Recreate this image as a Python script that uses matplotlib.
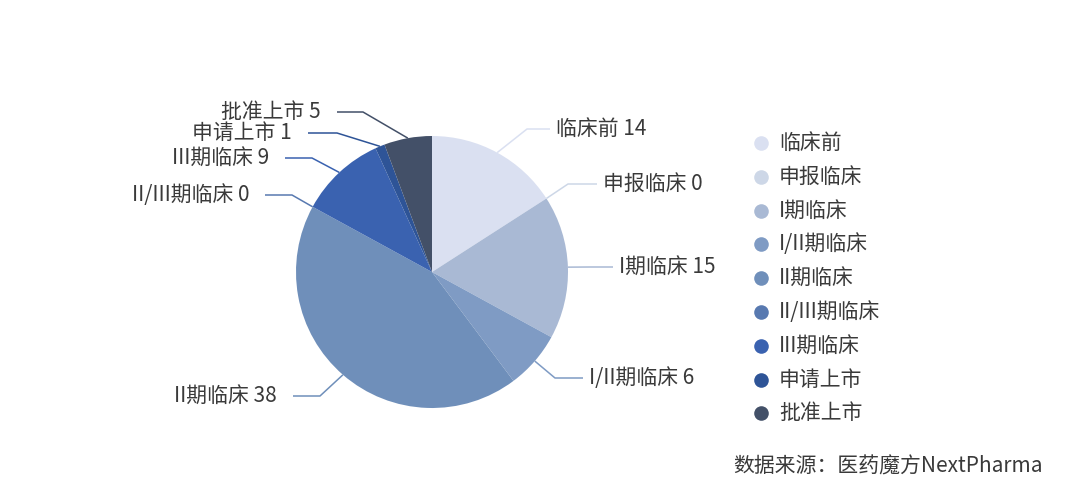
import matplotlib
matplotlib.use('Agg')
import matplotlib.pyplot as plt
import numpy as np

plt.rcParams['font.family'] = ['Noto Sans CJK SC', 'DejaVu Sans']

# data
stages = ['临床前', '申报临床', 'I期临床', 'I/II期临床', 'II期临床',
          'II/III期临床', 'III期临床', '申请上市', '批准上市']
counts = [14, 0, 15, 6, 38, 0, 9, 1, 5]
colors = ['#dae0f1', '#cdd7e7', '#a9b9d4', '#7f9bc4', '#6f8fba',
          '#5879b0', '#3a62b0', '#2e5497', '#435068']
source = '数据来源：医药魔方NextPharma'

# layout (pixel coords, y measured from top)
W, H = 1080, 496
CX, CY, R = 432, 272, 136
# elbow point, end of horizontal segment for each label
elbows = [(527, 129), (568, 184), (590, 267), (555, 378), (320, 396),
          (292, 195), (312, 158), (337, 133), (363, 112)]
ends = [(550, 129), (597, 184), (613, 267), (583, 378), (293, 396),
        (265, 195), (285, 158), (308, 133), (337, 112)]
TEXT_C = '#3a3a3a'
FS = 15

fig = plt.figure(figsize=(W / 100, H / 100), dpi=100)
ax = fig.add_axes([0, 0, 1, 1])

wedges, _ = ax.pie(counts, colors=colors, startangle=90, counterclock=False,
                   center=(CX, H - CY), radius=R,
                   wedgeprops=dict(linewidth=0))
ax.set_xlim(0, W)
ax.set_ylim(0, H)
ax.set_aspect('equal')
ax.axis('off')

# leader lines + labels; zero slices sit on the boundary angle
total = sum(counts)
cum = np.cumsum([0] + counts)
for i, (lab, v) in enumerate(zip(stages, counts)):
    mid = (cum[i] + v / 2) / total * 360  # clockwise from top
    a = np.deg2rad(mid)
    ex, ey = CX + R * np.sin(a), CY - R * np.cos(a)
    bx, by = elbows[i]
    tx, ty = ends[i]
    ax.plot([ex, bx, tx], [H - ey, H - by, H - ty], color=colors[i], lw=1.1,
            solid_capstyle='butt')
    right = tx > bx
    ax.text(tx + (6 if right else -16), H - ty, f'{lab} {v}',
            ha='left' if right else 'right', va='center',
            fontsize=FS, color=TEXT_C)

# legend
for i, lab in enumerate(stages):
    y = 143 + i * 33.8
    ax.plot(761, H - y, 'o', ms=10.5, color=colors[i], mec='none')
    ax.text(779, H - y, lab, ha='left', va='center', fontsize=FS,
            color=TEXT_C)

ax.text(1043, H - 467, source, ha='right', va='center', fontsize=FS,
        color=TEXT_C)

fig.savefig('out.png', dpi=100)
